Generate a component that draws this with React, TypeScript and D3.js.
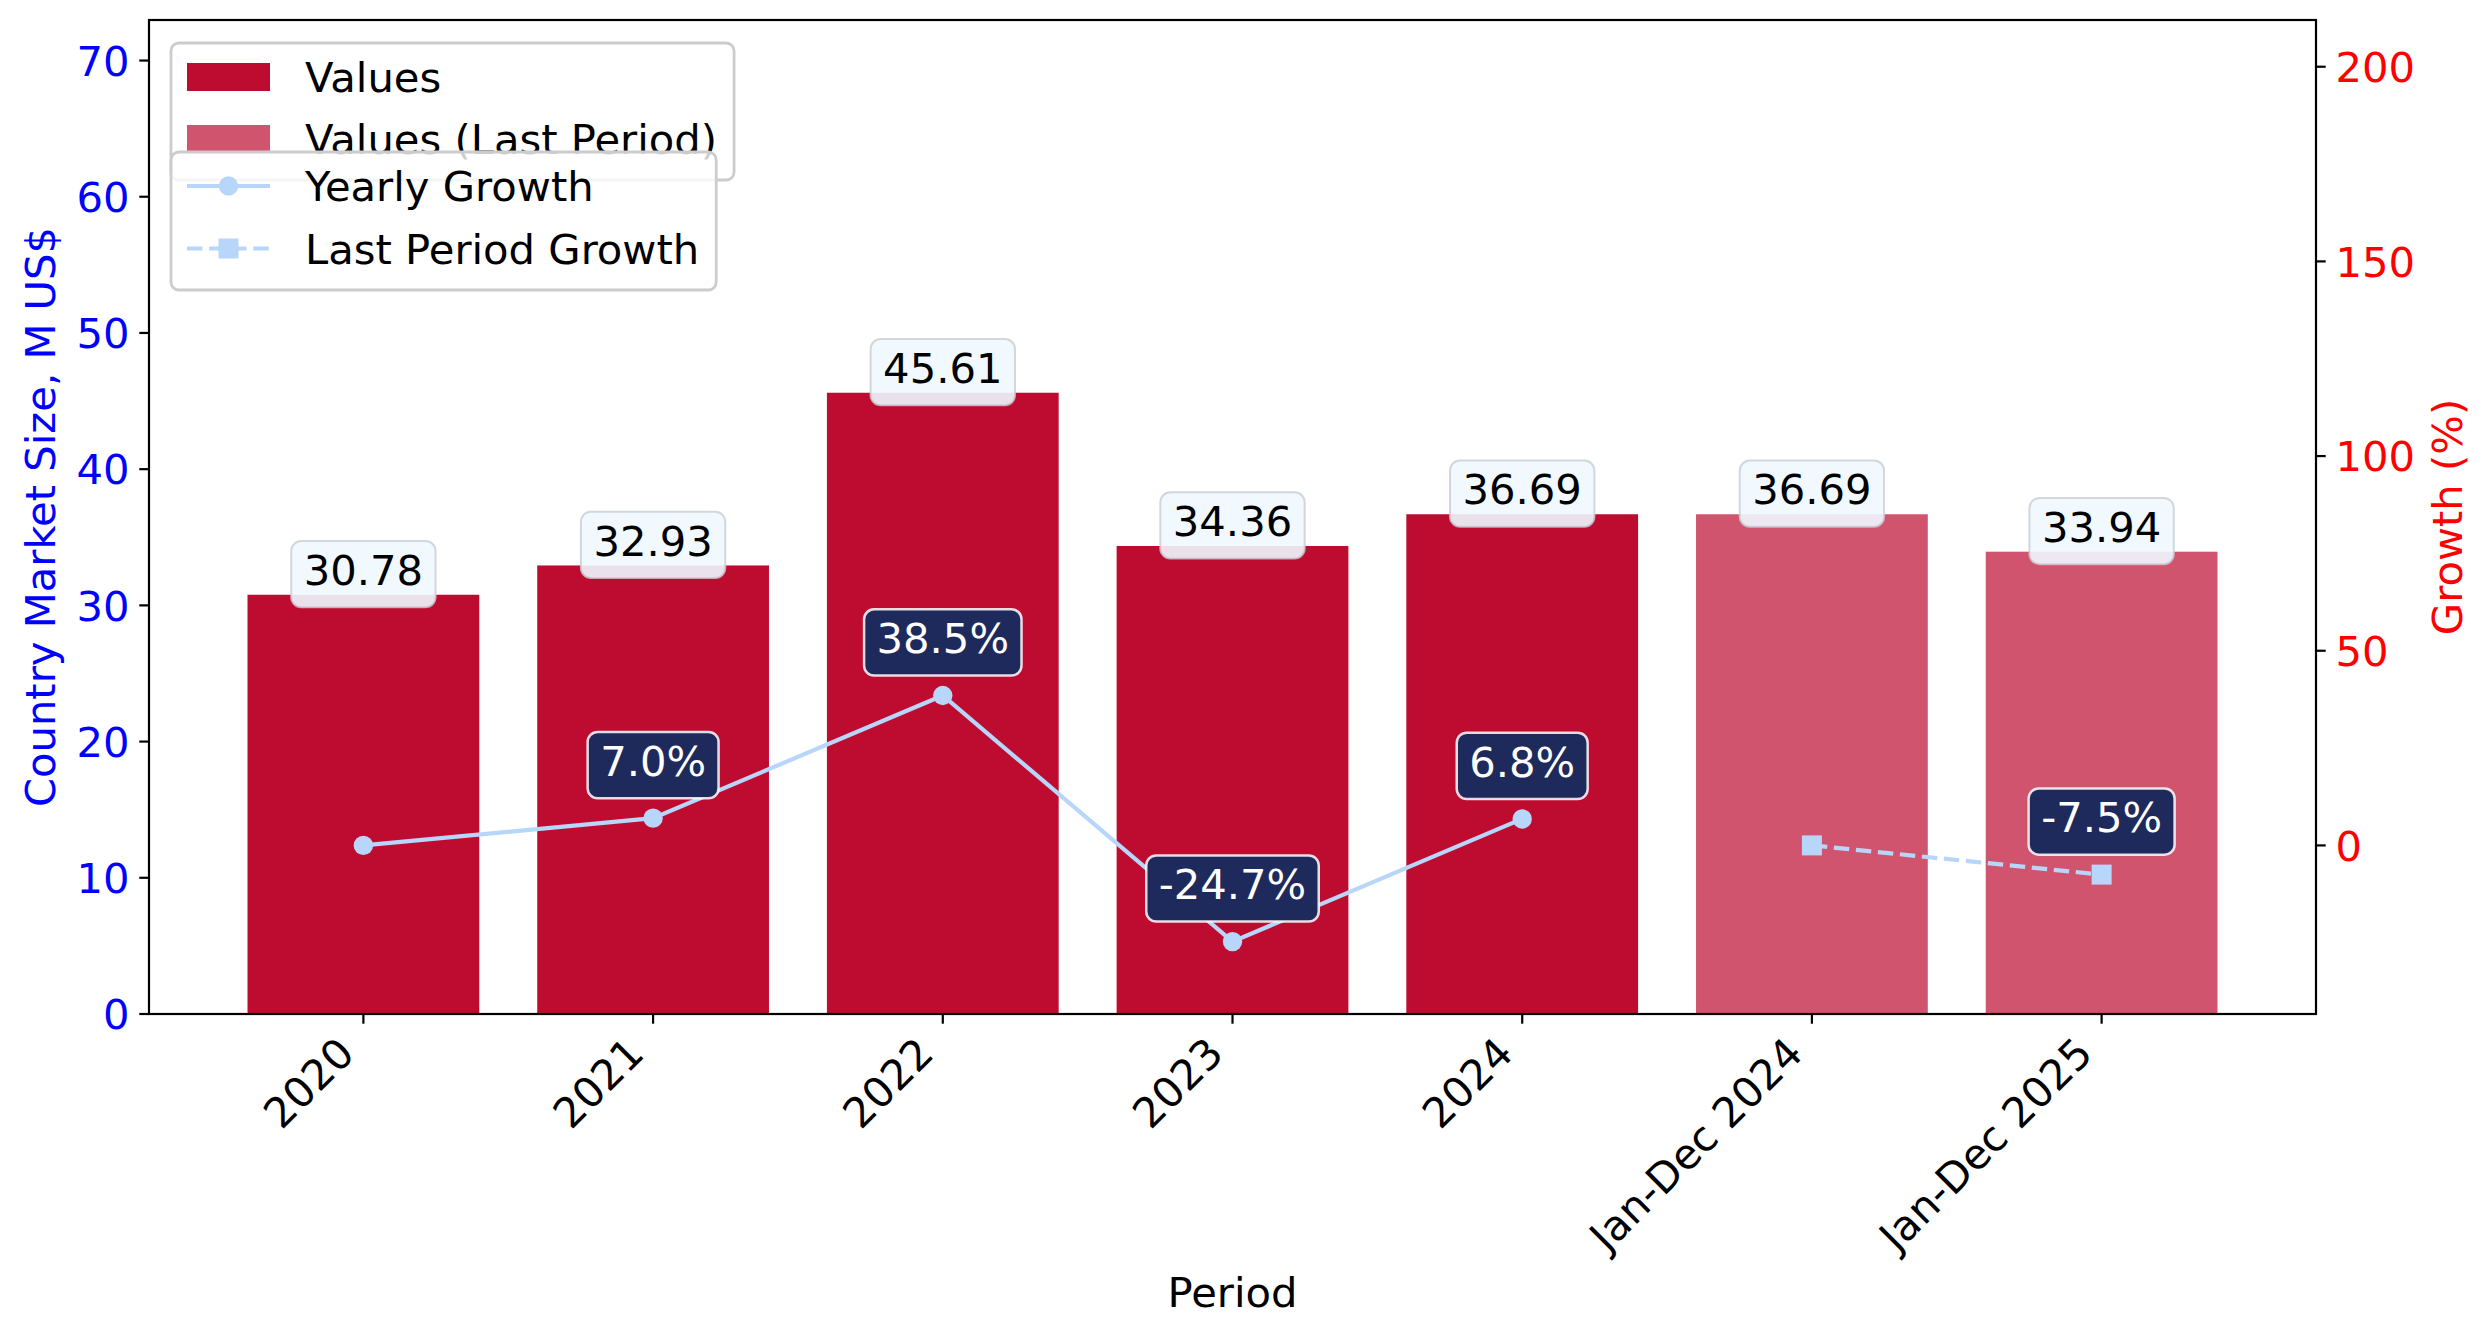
import React, { useMemo } from 'react';
import { scaleLinear, line } from 'd3';

// chart data
const categories = ['2020', '2021', '2022', '2023', '2024', 'Jan-Dec 2024', 'Jan-Dec 2025'];
const values = [30.78, 32.93, 45.61, 34.36, 36.69, 36.69, 33.94];
const lastPeriodFlags = [false, false, false, false, false, true, true];
const yearlyGrowth = [0, 7.0, 38.5, -24.7, 6.8];
const lastPeriodGrowth = [0, -7.5];
const leftTicks = [0, 10, 20, 30, 40, 50, 60, 70];
const rightTicks = [0, 50, 100, 150, 200];
const legendBars = ['Values', 'Values (Last Period)'];
const legendLines = ['Yearly Growth', 'Last Period Growth'];

const W = 2491;
const H = 1338;
const FONT = 'DejaVu Sans, Verdana, sans-serif';
const FS = 41.7;
const BAR = '#BE0C31';
const LINE = '#B7D6FA';
const NAVY = '#1F2A5C';

const plot = { left: 149, right: 2316, top: 20, bottom: 1014 };

let ctx: CanvasRenderingContext2D | null = null;
function textWidth(s: string, size = FS) {
  if (!ctx) ctx = document.createElement('canvas').getContext('2d');
  if (!ctx) return s.length * size * 0.6;
  ctx.font = `${size}px DejaVu Sans`;
  return ctx.measureText(s).width;
}

function App() {
  const n = categories.length;
  const x = scaleLinear()
    .domain([-0.4 - 0.05 * (n - 0.2), n - 1 + 0.4 + 0.05 * (n - 0.2)])
    .range([plot.left, plot.right]);
  const bw = x(0.8) - x(0);
  const yL = scaleLinear().domain([0, Math.max(...values) * 1.6]).range([plot.bottom, plot.top]);
  const yR = scaleLinear().domain([-43.3, 212]).range([plot.bottom, plot.top]);

  const yearlyPts = yearlyGrowth.map((g, i) => [x(i), yR(g)] as [number, number]);
  const lastPts = lastPeriodGrowth.map((g, i) => [x(i + 5), yR(g)] as [number, number]);
  const path = line();

  const c = Math.SQRT1_2;
  const asc = 0.76 * FS;
  const desc = 0.236 * FS;
  const pad = 12.5;

  const growthLabels = useMemo(() => {
    const out: { cx: number; py: number; t: string }[] = [];
    yearlyGrowth.forEach((g, i) => {
      if (i > 0) out.push({ cx: x(i), py: yR(g), t: `${g.toFixed(1)}%` });
    });
    lastPeriodGrowth.forEach((g, i) => {
      if (i > 0) out.push({ cx: x(i + 5), py: yR(g), t: `${g.toFixed(1)}%` });
    });
    return out;
  }, []);

  const leg1W = 305 + Math.max(...legendBars.map((s) => textWidth(s))) + 17 - 171;
  const leg2W = 305 + Math.max(...legendLines.map((s) => textWidth(s))) + 17 - 171;

  return (
    <svg width={W} height={H} style={{ position: 'absolute', left: 0, top: 0 }} fontFamily={FONT}>
      <rect width={W} height={H} fill="#fff" />

      {/* bars */}
      {values.map((v, i) => (
        <rect
          key={categories[i]}
          x={x(i) - bw / 2}
          y={yL(v)}
          width={bw}
          height={plot.bottom - yL(v)}
          fill={BAR}
          fillOpacity={lastPeriodFlags[i] ? 0.7 : 1}
        />
      ))}

      {/* value labels */}
      {values.map((v, i) => {
        const t = v.toFixed(2);
        const tw = textWidth(t);
        const base = yL(v) - desc;
        return (
          <g key={'v' + i}>
            <rect
              x={x(i) - tw / 2 - pad}
              y={base - 0.729 * FS - 1 - pad}
              width={tw + 2 * pad}
              height={0.729 * FS + 1 + desc + 2 * pad}
              rx={10}
              fill="#F0F8FF"
              fillOpacity={0.9}
              stroke="#C8CDD4"
              strokeOpacity={0.8}
              strokeWidth={2}
            />
            <text x={x(i)} y={base} fontSize={FS} textAnchor="middle" fill="#000">
              {t}
            </text>
          </g>
        );
      })}

      {/* growth lines */}
      <path d={path(yearlyPts) || ''} fill="none" stroke={LINE} strokeWidth={4.2} />
      <path d={path(lastPts) || ''} fill="none" stroke={LINE} strokeWidth={4.2} strokeDasharray="15.4 6.7" />
      {yearlyPts.map(([px, py], i) => (
        <circle key={'c' + i} cx={px} cy={py} r={9.7} fill={LINE} />
      ))}
      {lastPts.map(([px, py], i) => (
        <rect key={'s' + i} x={px - 10} y={py - 10} width={20} height={20} fill={LINE} />
      ))}

      {/* growth labels */}
      {growthLabels.map((g, i) => {
        const tw = textWidth(g.t);
        const base = g.py - 42.3;
        return (
          <g key={'g' + i}>
            <rect
              x={g.cx - tw / 2 - pad}
              y={base - 0.729 * FS - 1 - pad}
              width={tw + 2 * pad}
              height={0.729 * FS + 1 + desc + 2 * pad}
              rx={10}
              fill={NAVY}
              stroke="#fff"
              strokeOpacity={0.85}
              strokeWidth={2.5}
            />
            <text x={g.cx} y={base} fontSize={FS} textAnchor="middle" fill="#fff">
              {g.t}
            </text>
          </g>
        );
      })}

      {/* axes frame */}
      <rect
        x={plot.left}
        y={plot.top}
        width={plot.right - plot.left}
        height={plot.bottom - plot.top}
        fill="none"
        stroke="#000"
        strokeWidth={2.2}
      />

      {/* left axis */}
      {leftTicks.map((t) => (
        <g key={'l' + t}>
          <line x1={plot.left - 9.7} x2={plot.left} y1={yL(t)} y2={yL(t)} stroke="#000" strokeWidth={2.2} />
          <text x={plot.left - 19.4} y={yL(t) + 0.729 * FS / 2} fontSize={FS} textAnchor="end" fill="#0000FF">
            {t}
          </text>
        </g>
      ))}
      <text
        transform={`translate(40,${(plot.top + plot.bottom) / 2}) rotate(-90)`}
        textAnchor="middle"
        dy="0.36em"
        fontSize={FS}
        fill="#0000FF"
      >
        Country Market Size, M US$
      </text>

      {/* right axis */}
      {rightTicks.map((t) => (
        <g key={'r' + t}>
          <line x1={plot.right} x2={plot.right + 9.7} y1={yR(t)} y2={yR(t)} stroke="#000" strokeWidth={2.2} />
          <text x={plot.right + 19.4} y={yR(t) + 0.729 * FS / 2} fontSize={FS} textAnchor="start" fill="#FF0000">
            {t}
          </text>
        </g>
      ))}
      <text
        transform={`translate(2447,${(plot.top + plot.bottom) / 2}) rotate(-90)`}
        textAnchor="middle"
        dy="0.36em"
        fontSize={FS}
        fill="#FF0000"
      >
        Growth (%)
      </text>

      {/* x axis */}
      {categories.map((cat, i) => (
        <g key={'x' + i}>
          <line x1={x(i)} x2={x(i)} y1={plot.bottom} y2={plot.bottom + 9.7} stroke="#000" strokeWidth={2.2} />
          <text
            transform={`translate(${x(i) - c * desc},${plot.bottom + 19.4 + c * asc}) rotate(-45)`}
            textAnchor="end"
            fontSize={FS}
            fill="#000"
          >
            {cat}
          </text>
        </g>
      ))}
      <text x={(plot.left + plot.right) / 2} y={1307} textAnchor="middle" fontSize={FS} fill="#000">
        Period
      </text>

      {/* legend: bars */}
      <g>
        <rect x={171} y={43} width={leg1W} height={137} rx={8} fill="#fff" fillOpacity={0.8} stroke="#CCCCCC" strokeWidth={2.8} />
        {legendBars.map((s, i) => {
          const cy = 77 + i * 62;
          return (
            <g key={s}>
              <rect x={187} y={cy - 14} width={83} height={28} fill={BAR} fillOpacity={i === 1 ? 0.7 : 1} />
              <text x={305} y={cy + 15} fontSize={FS} fill="#000">
                {s}
              </text>
            </g>
          );
        })}
      </g>

      {/* legend: lines */}
      <g>
        <rect x={171} y={152} width={leg2W} height={138} rx={8} fill="#fff" fillOpacity={0.8} stroke="#CCCCCC" strokeWidth={2.8} />
        {legendLines.map((s, i) => {
          const cy = 186 + i * 62.5;
          return (
            <g key={s}>
              <line
                x1={187}
                x2={270}
                y1={cy}
                y2={cy}
                stroke={LINE}
                strokeWidth={4.2}
                strokeDasharray={i === 1 ? '15.4 6.7' : undefined}
              />
              {i === 0 ? (
                <circle cx={228.5} cy={cy} r={9.7} fill={LINE} />
              ) : (
                <rect x={218.5} y={cy - 10} width={20} height={20} fill={LINE} />
              )}
              <text x={305} y={cy + 15} fontSize={FS} fill="#000">
                {s}
              </text>
            </g>
          );
        })}
      </g>
    </svg>
  );
}

export default App;
